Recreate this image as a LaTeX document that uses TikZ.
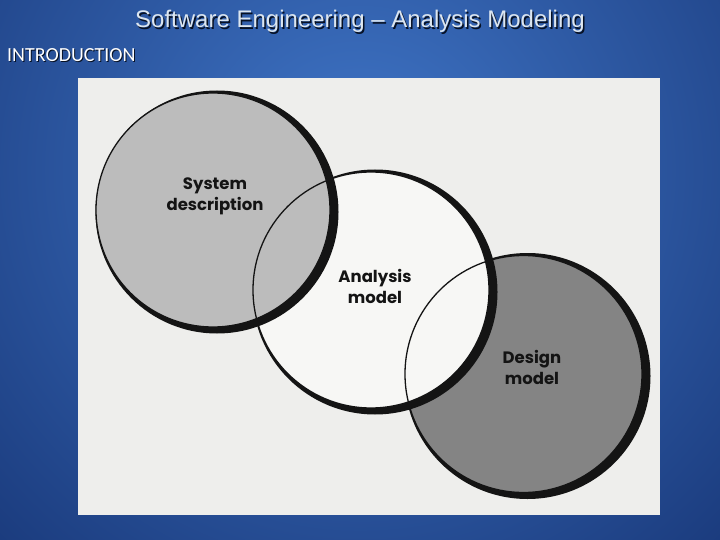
\documentclass[tikz,border=0pt]{standalone}
\usepackage{fontspec}
\setmainfont{Liberation Sans}
\newfontfamily\introfont{Carlito}
\newfontfamily\labfont{Poppins Bold}
\definecolor{bgdark}{HTML}{183778}
\definecolor{bglight}{HTML}{4076C8}
\definecolor{paper}{HTML}{EEEEEC}
\definecolor{sysgray}{HTML}{BCBCBC}
\definecolor{desgray}{HTML}{848484}
\definecolor{anawhite}{HTML}{F7F7F5}
\definecolor{titlecol}{HTML}{DCE6F0}
\definecolor{ink}{HTML}{141414}
\tikzset{
  thinring/.style={draw=ink, line width=1.3pt},
  shadowdisk/.style={fill=ink},
  lab/.style={font=\labfont\fontsize{16.5}{21}\selectfont, text=ink, align=center, inner sep=0pt},
  titletext/.style={font=\fontsize{24}{28}\selectfont, anchor=base, inner sep=0pt},
  introtext/.style={font=\introfont\fontsize{20}{24}\selectfont, anchor=base west, inner sep=0pt}
}
\begin{document}
\begin{tikzpicture}[x=1pt,y=-1pt]
\useasboundingbox (0,0) rectangle (720,540);
% background
\begin{scope}
\clip (0,0) rectangle (720,540);
\shade[inner color=bglight, outer color=bgdark] (360,170) circle[radius=560pt];
\end{scope}
% title
\node[titletext, text=black!70!bgdark] (titleshadow) at (361.5,29.5) {Software Engineering -- Analysis Modeling};
\node[titletext, text=titlecol] (title) at (360,28) {Software Engineering -- Analysis Modeling};
\node[introtext, text=black!70!bgdark] (introshadow) at (8,63) {INTRODUCTION};
\node[introtext, text=white] (intro) at (7,62) {INTRODUCTION};
% paper
\fill[paper] (78,78) rectangle (660,515);
% circle 3 (design)
\fill[shadowdisk] (527.5,376) circle[radius=123pt];
\fill[desgray] (523.5,374) circle[radius=118.5pt];
% circle 2 (analysis)
\fill[shadowdisk] (375,292) circle[radius=122.5pt];
\fill[anawhite] (371,290) circle[radius=118pt];
% circle 1 (system)
\fill[shadowdisk] (217,212) circle[radius=121.5pt];
\fill[sysgray] (213,210) circle[radius=117pt];
% thin outlines
\draw[thinring] (523.5,374) circle[radius=118.5pt];
\draw[thinring] (371,290) circle[radius=118pt];
\draw[thinring] (213,210) circle[radius=117pt];
% labels
\node[lab] (sys) at (215,196) {System\\description};
\node[lab] (ana) at (375,286.5) {Analysis\\model};
\node[lab] (des) at (532,367) {Design\\model};
\end{tikzpicture}
\end{document}
